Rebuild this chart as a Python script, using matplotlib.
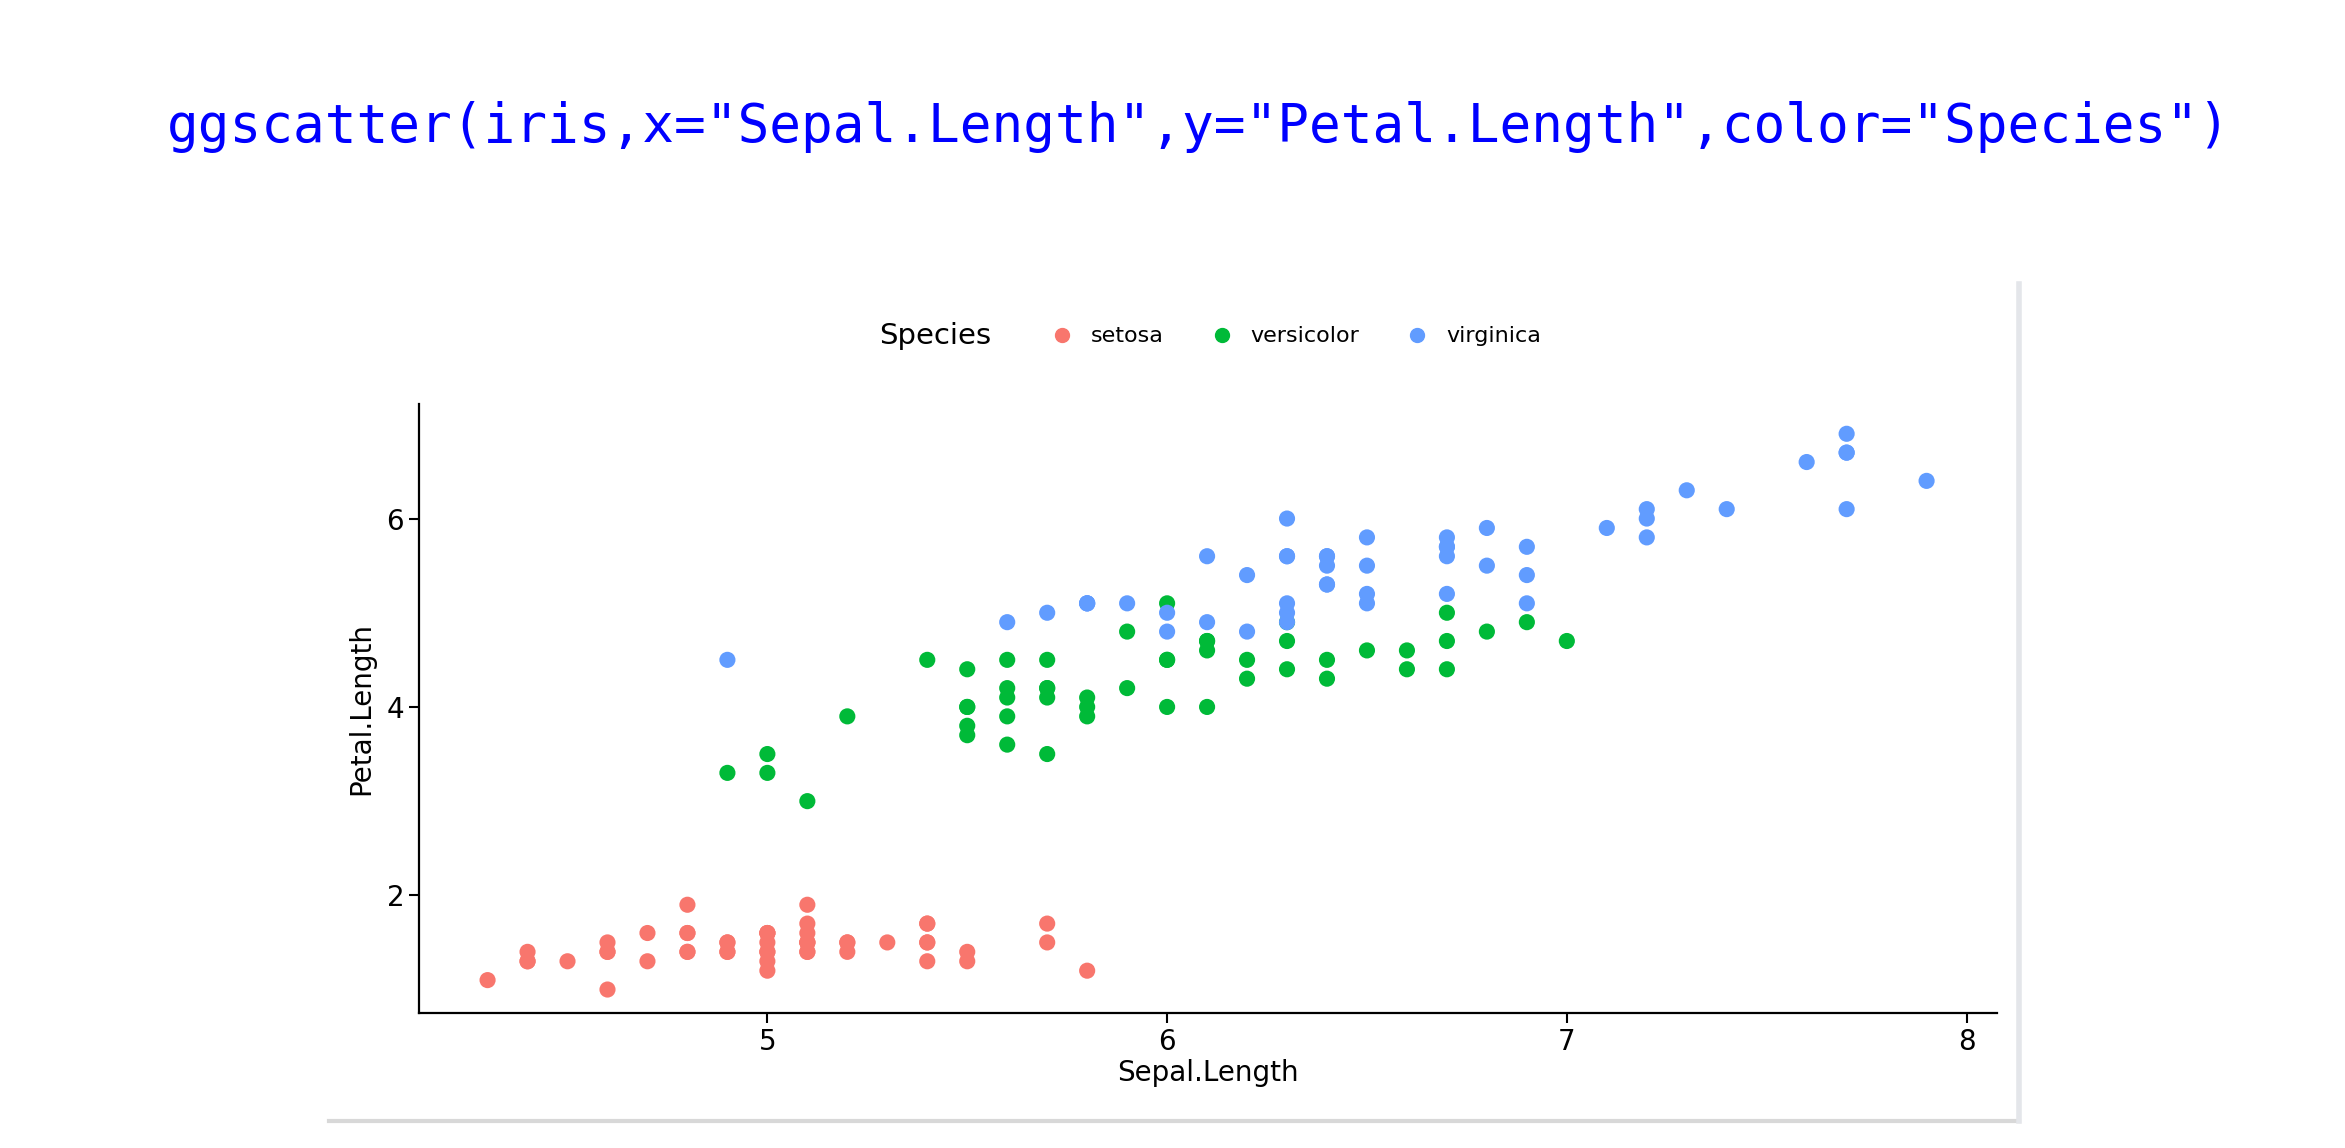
import matplotlib.pyplot as plt
from matplotlib.lines import Line2D

# iris: Sepal.Length vs Petal.Length by species
setosa_sl = [5.1,4.9,4.7,4.6,5.0,5.4,4.6,5.0,4.4,4.9,5.4,4.8,4.8,4.3,5.8,5.7,5.4,5.1,5.7,5.1,5.4,5.1,4.6,5.1,4.8,
             5.0,5.0,5.2,5.2,4.7,4.8,5.4,5.2,5.5,4.9,5.0,5.5,4.9,4.4,5.1,5.0,4.5,4.4,5.0,5.1,4.8,5.1,4.6,5.3,5.0]
setosa_pl = [1.4,1.4,1.3,1.5,1.4,1.7,1.4,1.5,1.4,1.5,1.5,1.6,1.4,1.1,1.2,1.5,1.3,1.4,1.7,1.5,1.7,1.5,1.0,1.7,1.9,
             1.6,1.6,1.5,1.4,1.6,1.6,1.5,1.5,1.4,1.5,1.2,1.3,1.4,1.3,1.5,1.3,1.3,1.3,1.6,1.9,1.4,1.6,1.4,1.5,1.4]
versi_sl = [7.0,6.4,6.9,5.5,6.5,5.7,6.3,4.9,6.6,5.2,5.0,5.9,6.0,6.1,5.6,6.7,5.6,5.8,6.2,5.6,5.9,6.1,6.3,6.1,6.4,
            6.6,6.8,6.7,6.0,5.7,5.5,5.5,5.8,6.0,5.4,6.0,6.7,6.3,5.6,5.5,5.5,6.1,5.8,5.0,5.6,5.7,5.7,6.2,5.1,5.7]
versi_pl = [4.7,4.5,4.9,4.0,4.6,4.5,4.7,3.3,4.6,3.9,3.5,4.2,4.0,4.7,3.6,4.4,4.5,4.1,4.5,3.9,4.8,4.0,4.9,4.7,4.3,
            4.4,4.8,5.0,4.5,3.5,3.8,3.7,3.9,5.1,4.5,4.5,4.7,4.4,4.1,4.0,4.4,4.6,4.0,3.3,4.2,4.2,4.2,4.3,3.0,4.1]
virg_sl = [6.3,5.8,7.1,6.3,6.5,7.6,4.9,7.3,6.7,7.2,6.5,6.4,6.8,5.7,5.8,6.4,6.5,7.7,7.7,6.0,6.9,5.6,7.7,6.3,6.7,
           7.2,6.2,6.1,6.4,7.2,7.4,7.9,6.4,6.3,6.1,7.7,6.3,6.4,6.0,6.9,6.7,6.9,5.8,6.8,6.7,6.7,6.3,6.5,6.2,5.9]
virg_pl = [6.0,5.1,5.9,5.6,5.8,6.6,4.5,6.3,5.8,6.1,5.1,5.3,5.5,5.0,5.1,5.3,5.5,6.7,6.9,5.0,5.7,4.9,6.7,4.9,5.7,
           6.0,4.8,4.9,5.6,5.8,6.1,6.4,5.6,5.1,5.6,6.1,5.6,5.5,4.8,5.4,5.6,5.1,5.1,5.9,5.7,5.2,5.0,5.2,5.4,5.1]

species = ["setosa", "versicolor", "virginica"]
colors = ["#F8766D", "#00BA38", "#619CFF"]
data = [(setosa_sl, setosa_pl), (versi_sl, versi_pl), (virg_sl, virg_pl)]

fig = plt.figure(figsize=(23.45, 11.48), dpi=100)
ax = fig.add_axes([0.1786, 0.1172, 0.6728, 0.5312])

for (x, y), c in zip(data, colors):
    ax.scatter(x, y, s=135, color=c, edgecolors="none")

ax.set_xlim(4.128, 8.075)
ax.set_ylim(0.746, 7.22)
ax.set_xticks([5, 6, 7, 8])
ax.set_yticks([2, 4, 6])
for s in ["top", "right"]:
    ax.spines[s].set_visible(False)
for s in ["left", "bottom"]:
    ax.spines[s].set_linewidth(1.6)
ax.tick_params(labelsize=20, length=7, width=1.5, colors="black")
ax.set_xlabel("Sepal.Length", fontsize=20, labelpad=2)
ax.set_ylabel("Petal.Length", fontsize=20, labelpad=8)

# legend on top
fig.text(0.375, 0.707, "Species", fontsize=21, ha="left", va="center")
handles = [Line2D([], [], marker="o", ls="", color=c, markersize=10) for c in colors]
fig.legend(handles, species, loc="center left", bbox_to_anchor=(0.435, 0.707), ncol=3,
           frameon=False, fontsize=16, handletextpad=0.3, columnspacing=1.6)

# panel border
fig.add_artist(Line2D([0.1403, 0.861], [0.0234, 0.0234], color="#d8d8d8", lw=3))
fig.add_artist(Line2D([0.861, 0.861], [0.0234, 0.753], color="#e4e6ea", lw=4))

fig.text(0.511, 0.889, 'ggscatter(iris,x="Sepal.Length",y="Petal.Length",color="Species")',
         fontsize=38, family="DejaVu Sans Mono", color="#0000ff", ha="center", va="center")

fig.savefig("out.png", dpi=100)
